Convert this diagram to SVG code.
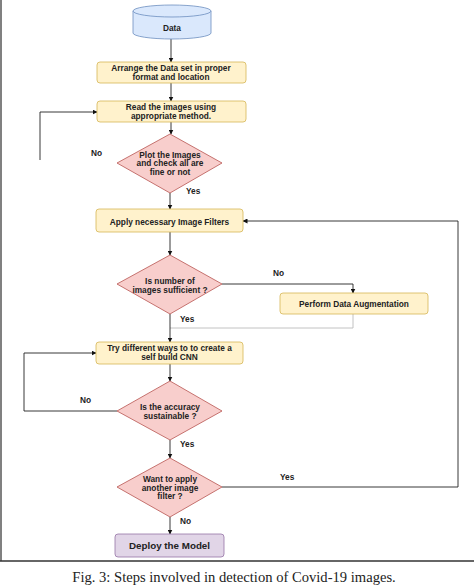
<svg xmlns="http://www.w3.org/2000/svg" width="474" height="588" viewBox="0 0 474 588">
<style>
.box{fill:#fff2cc;stroke:#d6b656;stroke-width:0.8}
.dia{fill:#f8cecc;stroke:#b85450;stroke-width:0.8}
.t{font-family:"Liberation Sans",Arial,sans-serif;font-size:8.3px;font-weight:bold;fill:#222;text-anchor:middle}
.lbl{font-family:"Liberation Sans",Arial,sans-serif;font-size:8.3px;font-weight:bold;fill:#222}
.c{fill:none;stroke:#222;stroke-width:0.9}
</style>
<defs>
<marker id="ah" viewBox="0 0 10 10" refX="9" refY="5" markerWidth="5" markerHeight="5" orient="auto" markerUnits="userSpaceOnUse">
<path d="M0,0 L10,5 L0,10 z" fill="#111"/>
</marker>
</defs>
<rect x="0" y="0" width="474" height="588" fill="#fff"/>
<g id="frame">
<line x1="1" y1="0" x2="1" y2="561" stroke="#808080" stroke-width="2"/>
<line x1="0" y1="561" x2="474" y2="561" stroke="#333" stroke-width="1.5"/>
</g>
<g id="connectors">
<path class="c" d="M171,39 V62" marker-end="url(#ah)"/>
<path class="c" d="M171,83 V101" marker-end="url(#ah)"/>
<path class="c" d="M171,122 V134" marker-end="url(#ah)"/>
<path class="c" d="M40,160 V112 H97" marker-end="url(#ah)"/>
<path class="c" d="M170,193 V209" marker-end="url(#ah)"/>
<path class="c" d="M170,232 V255" marker-end="url(#ah)"/>
<path class="c" d="M222,284 H353 V293" marker-end="url(#ah)"/>
<path d="M353,314 V328 H170" fill="none" stroke="#bbb" stroke-width="0.9"/>
<path class="c" d="M170,314 V342" marker-end="url(#ah)"/>
<path class="c" d="M170,364 V381" marker-end="url(#ah)"/>
<path class="c" d="M117,411 H24 V353 H96" marker-end="url(#ah)"/>
<path class="c" d="M170,440 V458" marker-end="url(#ah)"/>
<path class="c" d="M222,487 H458 V221 H243" marker-end="url(#ah)"/>
<path class="c" d="M170,517 V534" marker-end="url(#ah)"/>
<text class="lbl" x="91" y="156">No</text>
<text class="lbl" x="186" y="194">Yes</text>
<text class="lbl" x="273" y="276">No</text>
<text class="lbl" x="180" y="322">Yes</text>
<text class="lbl" x="80" y="403">No</text>
<text class="lbl" x="180" y="447">Yes</text>
<text class="lbl" x="280" y="480">Yes</text>
<text class="lbl" x="180" y="524">No</text>
</g>
<g id="data">
<path d="M133,11 V33 A39,6 0 0 0 211,33 V11" fill="#dae8fc" stroke="#6c8ebf" stroke-width="0.8"/>
<ellipse cx="172" cy="11" rx="39" ry="6" fill="#dae8fc" stroke="#6c8ebf" stroke-width="0.8"/>
<text class="t" x="172" y="31">Data</text>
</g>
<g id="arrange">
<rect class="box" x="97" y="62" width="149" height="21" rx="3"/>
<text class="t" x="171" y="71.3">Arrange the Data set in proper</text>
<text class="t" x="171" y="80">format and location</text>
</g>
<g id="read">
<rect class="box" x="97" y="101" width="149" height="21" rx="3"/>
<text class="t" x="171" y="110">Read the images using</text>
<text class="t" x="171" y="119">appropriate method.</text>
</g>
<g id="plot">
<polygon class="dia" points="170,134 222,163 170,193 117,163"/>
<text class="t" x="170" y="157.5">Plot the Images</text>
<text class="t" x="170" y="166.2">and check all are</text>
<text class="t" x="170" y="174.9">fine or not</text>
</g>
<g id="filters">
<rect class="box" x="96" y="209" width="147" height="23" rx="3"/>
<text class="t" x="169.5" y="224.5">Apply necessary Image Filters</text>
</g>
<g id="sufficient">
<polygon class="dia" points="170,255 222,284 170,314 117,284"/>
<text class="t" x="170" y="283.8">Is number of</text>
<text class="t" x="170" y="292.5">images sufficient ?</text>
</g>
<g id="augment">
<rect class="box" x="280" y="293" width="148" height="21" rx="3"/>
<text class="t" x="354" y="306.5">Perform Data Augmentation</text>
</g>
<g id="cnn">
<rect class="box" x="96" y="342" width="147" height="22" rx="3"/>
<text class="t" x="169.5" y="351">Try different ways to to create a</text>
<text class="t" x="169.5" y="360">self build CNN</text>
</g>
<g id="accuracy">
<polygon class="dia" points="170,381 222,411 170,440 117,411"/>
<text class="t" x="170" y="409.8">Is the accuracy</text>
<text class="t" x="170" y="418.5">sustainable ?</text>
</g>
<g id="another">
<polygon class="dia" points="170,458 222,487 170,517 117,487"/>
<text class="t" x="170" y="482">Want to apply</text>
<text class="t" x="170" y="490.7">another image</text>
<text class="t" x="170" y="499.4">filter ?</text>
</g>
<g id="deploy">
<rect x="115" y="534" width="109" height="23" rx="3" fill="#e1d5e7" stroke="#9673a6" stroke-width="0.8"/>
<text class="t" x="169.5" y="549" style="font-size:9.8px">Deploy the Model</text>
</g>
<text x="234" y="582" text-anchor="middle" font-family="'Liberation Serif','Times New Roman',serif" font-size="14.6" fill="#222">Fig. 3: Steps involved in detection of Covid-19 images.</text>
</svg>
